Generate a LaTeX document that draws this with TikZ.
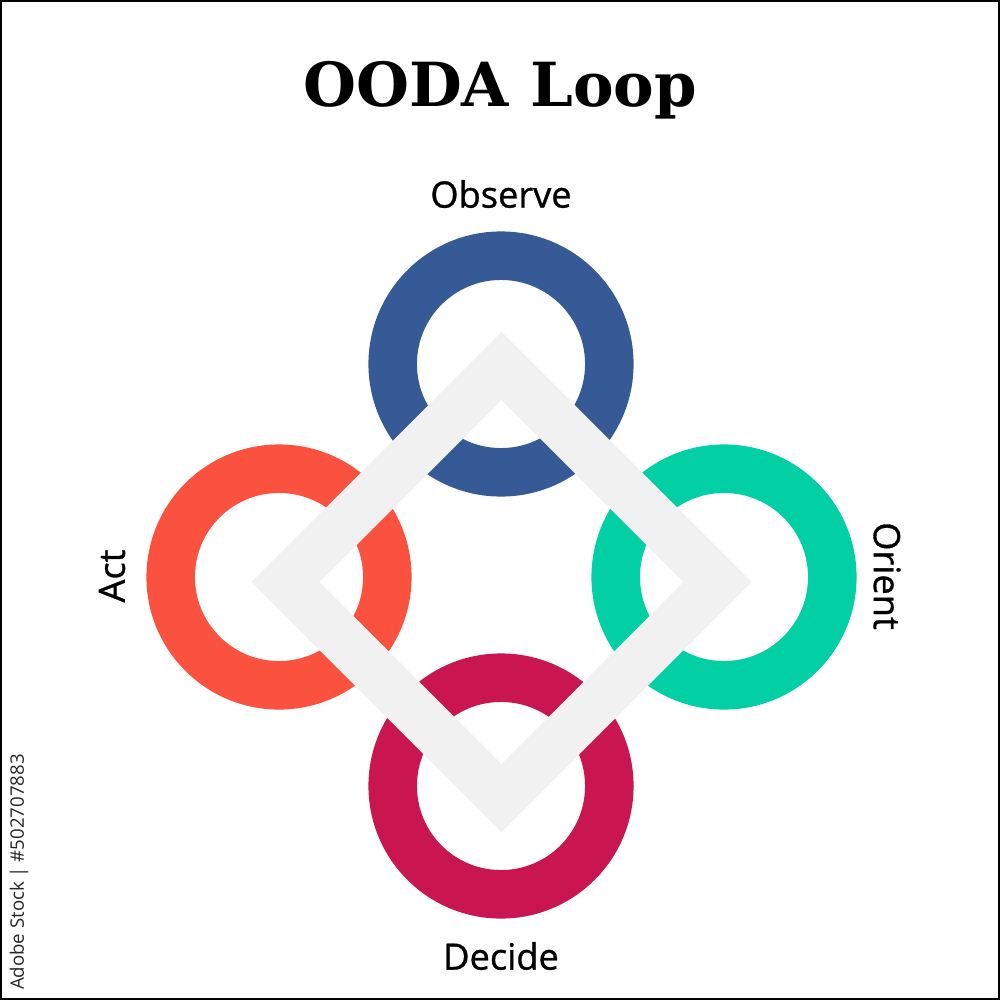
\documentclass[tikz,border=0pt]{standalone}
\usepackage{fontspec}
\setmainfont{Open Sans}
\newfontfamily\labelfont[FakeBold=0.9]{Open Sans}
\newfontfamily\titlefont{DejaVu Serif}
\definecolor{obsblue}{HTML}{365A96}
\definecolor{actred}{HTML}{FB5240}
\definecolor{oriteal}{HTML}{03CFA5}
\definecolor{deccrim}{HTML}{C91650}
\definecolor{framegrey}{HTML}{F1F1F1}
\tikzset{
  ringstyle/.style={even odd rule},
  labelstyle/.style={font=\labelfont\fontsize{10.3}{12}\selectfont, inner sep=0pt},
}
\begin{document}
\begin{tikzpicture}[x={(0.01cm,0)}, y={(0,-0.01cm)}]
\useasboundingbox (0,0) rectangle (1000,1000);
\fill[white] (0,0) rectangle (1000,1000);
% ring centres
\coordinate (cobs) at (501,364);
\coordinate (cact) at (279,577);
\coordinate (cori) at (724,577);
\coordinate (cdec) at (501,786);
% rings
\fill[obsblue, ringstyle] (cobs) circle[radius=1.325cm] (cobs) circle[radius=0.84cm];
\fill[actred, ringstyle] (cact) circle[radius=1.325cm] (cact) circle[radius=0.84cm];
\fill[oriteal, ringstyle] (cori) circle[radius=1.325cm] (cori) circle[radius=0.84cm];
\fill[deccrim, ringstyle] (cdec) circle[radius=1.325cm] (cdec) circle[radius=0.84cm];
% diamond frame on top
\fill[framegrey, even odd rule]
  (501.5,332) -- (751.5,582) -- (501.5,832) -- (251.5,582) -- cycle
  (501.5,400) -- (683.5,582) -- (501.5,764) -- (319.5,582) -- cycle;
% title
\node[inner sep=0pt] (title) at (500,90) {\titlefont\bfseries\fontsize{17.3}{20}\selectfont OODA Loop};
% labels
\node[labelstyle] (obs) at (501,194) {Observe};
\node[labelstyle] (dec) at (501,956) {Decide};
\node[labelstyle, rotate=90] (act) at (112,576) {Act};
\node[labelstyle, rotate=-90] (ori) at (887,576) {Orient};
% stock id
\node[inner sep=0pt, rotate=90, text=black!85, font=\fontsize{5.3}{6}\selectfont] (stock) at (19,872) {Adobe Stock | \#502707883};
% frame
\draw[black, line width=0.02cm] (1,1) rectangle (999,999);
\end{tikzpicture}
\end{document}
